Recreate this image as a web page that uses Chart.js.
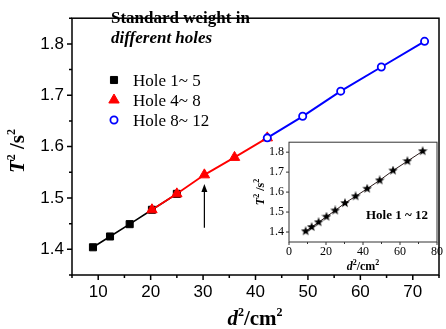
<!DOCTYPE html>
<html>
<head>
<meta charset="utf-8">
<script src="https://cdn.jsdelivr.net/npm/chart.js@4"></script>
<style>
  html, body { margin: 0; padding: 0; background: #fff; }
  #wrap { position: relative; width: 446px; height: 329px; }
  #main { position: absolute; left: 0; top: 0; }
  #inset { position: absolute; left: 240px; top: 130px; }
</style>
</head>
<body>
<div id="wrap">
  <canvas id="main" width="446" height="329"></canvas>
  <canvas id="inset" width="206" height="145"></canvas>
</div>
<script>
// d^2 (cm^2) and T^2 (s^2) for each group of holes
const hole1to5X = [9, 12.25, 16, 20.25, 25];
const hole1to5Y = [1.404, 1.425, 1.449, 1.477, 1.508];
const hole4to8X = [20.25, 25, 30.25, 36, 42.25];
const hole4to8Y = [1.477, 1.508, 1.545, 1.579, 1.617];
const hole8to12X = [42.25, 49, 56.25, 64, 72.25];
const hole8to12Y = [1.617, 1.659, 1.708, 1.755, 1.805];

// inset: all holes together
const allHolesX = [9, 12.25, 16, 20.25, 25, 30.25, 36, 42.25, 49, 56.25, 64, 72.25];
const allHolesY = [1.404, 1.425, 1.449, 1.477, 1.508, 1.545, 1.579, 1.617, 1.659, 1.708, 1.755, 1.805];

const seriesNames = ['Hole 1~ 5', 'Hole 4~ 8', 'Hole 8~ 12'];
const mainXTicks = [10, 20, 30, 40, 50, 60, 70];
const mainYTicks = [1.4, 1.5, 1.6, 1.7, 1.8];
const insetXTicks = [0, 20, 40, 60, 80];
const insetYTicks = [1.4, 1.5, 1.6, 1.7, 1.8];

// arrow marking hole 5.5 (x, from y, to y)
const arrowAt = [30.25, 1.442, 1.527];

const pts = (xs, ys) => xs.map((x, i) => ({ x: x, y: ys[i] }));
const serif = 'Liberation Serif';

function richText(ctx, parts, x, y) {
  let w = 0;
  parts.forEach(p => { ctx.font = p[1]; w += ctx.measureText(p[0]).width; });
  let cx = x - w / 2;
  ctx.textAlign = 'left';
  ctx.textBaseline = 'alphabetic';
  parts.forEach(p => {
    ctx.font = p[1];
    ctx.fillText(p[0], cx, y + (p[2] || 0));
    cx += ctx.measureText(p[0]).width;
  });
}

function drawTicks(ctx, chart, majors, minors, lenMaj, lenMin) {
  const a = chart.chartArea, xs = chart.scales.x, ys = chart.scales.y;
  ctx.beginPath();
  majors[0].forEach(v => { const p = xs.getPixelForValue(v); ctx.moveTo(p, a.bottom); ctx.lineTo(p, a.bottom + lenMaj); });
  minors[0].forEach(v => { const p = xs.getPixelForValue(v); ctx.moveTo(p, a.bottom); ctx.lineTo(p, a.bottom + lenMin); });
  majors[1].forEach(v => { const p = ys.getPixelForValue(v); ctx.moveTo(a.left, p); ctx.lineTo(a.left - lenMaj, p); });
  minors[1].forEach(v => { const p = ys.getPixelForValue(v); ctx.moveTo(a.left, p); ctx.lineTo(a.left - lenMin, p); });
  ctx.stroke();
}

function halfSteps(ticks, lo, hi) {
  const step = ticks[1] - ticks[0];
  const out = [];
  for (let v = ticks[0] - step / 2; v <= hi + 1e-9; v += step) {
    if (v >= lo - 1e-9) out.push(Math.round(v * 1000) / 1000);
  }
  return out;
}

const mainDecor = {
  id: 'mainDecor',
  afterDatasetsDraw(chart) {
    const ctx = chart.ctx, a = chart.chartArea;
    const xs = chart.scales.x, ys = chart.scales.y;
    ctx.save();
    ctx.strokeStyle = '#000';
    ctx.fillStyle = '#000';
    ctx.lineWidth = 1.5;
    ctx.strokeRect(a.left, a.top, a.right - a.left, a.bottom - a.top);
    drawTicks(ctx, chart, [mainXTicks, mainYTicks],
      [halfSteps(mainXTicks, 5, 75), halfSteps(mainYTicks, 1.35, 1.85)], 5, 3);

    // arrow
    const ax = xs.getPixelForValue(arrowAt[0]);
    const y0 = ys.getPixelForValue(arrowAt[1]), y1 = ys.getPixelForValue(arrowAt[2]);
    ctx.lineWidth = 1.2;
    ctx.beginPath(); ctx.moveTo(ax, y0); ctx.lineTo(ax, y1 + 6); ctx.stroke();
    ctx.beginPath(); ctx.moveTo(ax, y1); ctx.lineTo(ax - 3, y1 + 8); ctx.lineTo(ax + 3, y1 + 8); ctx.closePath(); ctx.fill();

    // legend
    ctx.textAlign = 'left';
    ctx.textBaseline = 'alphabetic';
    ctx.font = 'bold 17px ' + serif;
    ctx.fillText('Standard weight in', 111, 23);
    ctx.font = 'italic bold 17px ' + serif;
    ctx.fillText('different holes', 111, 43);
    chart.data.datasets.forEach((ds, i) => {
      const y = 80 + i * 20;
      ctx.fillStyle = ds.pointBackgroundColor;
      ctx.strokeStyle = ds.pointBorderColor;
      ctx.lineWidth = ds.pointBorderWidth;
      Chart.helpers.drawPoint(ctx, { pointStyle: ds.pointStyle, radius: ds.pointRadius, rotation: 0, borderWidth: ds.pointBorderWidth }, 114, y);
      ctx.fillStyle = '#000';
      ctx.font = '17px ' + serif;
      ctx.fillText(ds.label, 133, y + 6);
    });

    // axis titles
    ctx.fillStyle = '#000';
    richText(ctx, [['d', 'italic bold 21px ' + serif], ['2', 'bold 12px ' + serif, -9],
      ['/cm', 'bold 21px ' + serif], ['2', 'bold 12px ' + serif, -9]], 255, 325);
    ctx.translate(24, 151);
    ctx.rotate(-Math.PI / 2);
    richText(ctx, [['T', 'italic bold 21px ' + serif], ['2', 'bold 12px ' + serif, -9],
      [' /s', 'bold 21px ' + serif], ['2', 'bold 12px ' + serif, -9]], 0, 0);
    ctx.restore();
  }
};

new Chart(document.getElementById('main'), {
  type: 'scatter',
  data: {
    datasets: [{
      label: seriesNames[0],
      data: pts(hole1to5X, hole1to5Y),
      showLine: true,
      borderColor: '#000',
      borderWidth: 1.6,
      pointStyle: 'rect',
      pointRadius: 5,
      pointBackgroundColor: '#000',
      pointBorderColor: '#000',
      pointBorderWidth: 1,
      order: 3
    }, {
      label: seriesNames[1],
      data: pts(hole4to8X, hole4to8Y),
      showLine: true,
      borderColor: '#ff0000',
      borderWidth: 1.8,
      pointStyle: 'triangle',
      pointRadius: 6,
      pointBackgroundColor: '#ff0000',
      pointBorderColor: '#ff0000',
      pointBorderWidth: 1,
      order: 2
    }, {
      label: seriesNames[2],
      data: pts(hole8to12X, hole8to12Y),
      showLine: true,
      borderColor: '#0000ff',
      borderWidth: 2,
      pointStyle: 'circle',
      pointRadius: 3.6,
      pointBackgroundColor: '#ffffff',
      pointBorderColor: '#0000ff',
      pointBorderWidth: 1.8,
      order: 1
    }]
  },
  options: {
    responsive: false,
    animation: false,
    layout: { padding: { top: 1, right: 3, left: 0, bottom: 0 } },
    plugins: { legend: { display: false }, tooltip: { enabled: false } },
    scales: {
      x: {
        type: 'linear', min: 5, max: 75,
        grid: { display: false, drawTicks: false }, border: { display: false },
        afterBuildTicks: s => { s.ticks = mainXTicks.map(v => ({ value: v })); },
        afterFit: s => { s.height = 54; },
        ticks: { font: { family: 'Liberation Sans', size: 17 }, color: '#000', padding: 7, maxRotation: 0, autoSkip: false }
      },
      y: {
        type: 'linear', min: 1.35, max: 1.85,
        grid: { display: false, drawTicks: false }, border: { display: false },
        afterBuildTicks: s => { s.ticks = mainYTicks.map(v => ({ value: v })); },
        afterFit: s => { s.width = 72; },
        ticks: { font: { family: 'Liberation Sans', size: 17 }, color: '#000', padding: 8, callback: v => v.toFixed(1) }
      }
    }
  },
  plugins: [mainDecor]
});

function makeStar(size) {
  const c = document.createElement('canvas');
  c.width = c.height = size;
  const g = c.getContext('2d');
  const r = size / 2, ri = r * 0.42;
  g.beginPath();
  for (let i = 0; i < 10; i++) {
    const ang = -Math.PI / 2 + i * Math.PI / 5;
    const rr = i % 2 ? ri : r;
    g.lineTo(r + rr * Math.cos(ang), r + rr * Math.sin(ang));
  }
  g.closePath();
  g.fillStyle = '#000';
  g.fill();
  return c;
}

const insetDecor = {
  id: 'insetDecor',
  afterDatasetsDraw(chart) {
    const ctx = chart.ctx, a = chart.chartArea;
    ctx.save();
    ctx.strokeStyle = '#333';
    ctx.fillStyle = '#000';
    ctx.lineWidth = 1;
    ctx.strokeRect(a.left, a.top, a.right - a.left, a.bottom - a.top);
    drawTicks(ctx, chart, [insetXTicks, insetYTicks],
      [halfSteps(insetXTicks, 0, 80), []], 3, 2);
    ctx.textAlign = 'left';
    ctx.textBaseline = 'alphabetic';
    ctx.font = 'bold 13px ' + serif;
    ctx.fillText('Hole 1 ~ 12', 126, 89);
    richText(ctx, [['d', 'italic bold 12px ' + serif], ['2', 'bold 8px ' + serif, -5],
      ['/cm', 'bold 12px ' + serif], ['2', 'bold 8px ' + serif, -5]], 123, 140);
    ctx.translate(24, 62);
    ctx.rotate(-Math.PI / 2);
    richText(ctx, [['T', 'italic bold 12px ' + serif], ['2', 'bold 8px ' + serif, -5],
      [' /s', 'bold 12px ' + serif], ['2', 'bold 8px ' + serif, -5]], 0, 0);
    ctx.restore();
  }
};

new Chart(document.getElementById('inset'), {
  type: 'scatter',
  data: {
    datasets: [{
      label: 'Hole 1 ~ 12',
      data: pts(allHolesX, allHolesY),
      showLine: true,
      borderColor: '#2a1a1a',
      borderWidth: 1,
      pointStyle: makeStar(10),
      pointRadius: 5
    }]
  },
  options: {
    responsive: false,
    animation: false,
    layout: { padding: { top: 10, right: 7, left: 0, bottom: 0 } },
    plugins: { legend: { display: false }, tooltip: { enabled: false } },
    scales: {
      x: {
        type: 'linear', min: 0, max: 80,
        grid: { display: false, drawTicks: false }, border: { display: false },
        afterBuildTicks: s => { s.ticks = insetXTicks.map(v => ({ value: v })); },
        afterFit: s => { s.height = 33; },
        ticks: { font: { family: serif, size: 12 }, color: '#000', padding: 3, maxRotation: 0, autoSkip: false }
      },
      y: {
        type: 'linear', min: 1.35, max: 1.85,
        grid: { display: false, drawTicks: false }, border: { display: false },
        afterBuildTicks: s => { s.ticks = insetYTicks.map(v => ({ value: v })); },
        afterFit: s => { s.width = 49; },
        ticks: { font: { family: serif, size: 12 }, color: '#000', padding: 5, callback: v => v.toFixed(1) }
      }
    }
  },
  plugins: [insetDecor]
});
</script>
</body>
</html>
